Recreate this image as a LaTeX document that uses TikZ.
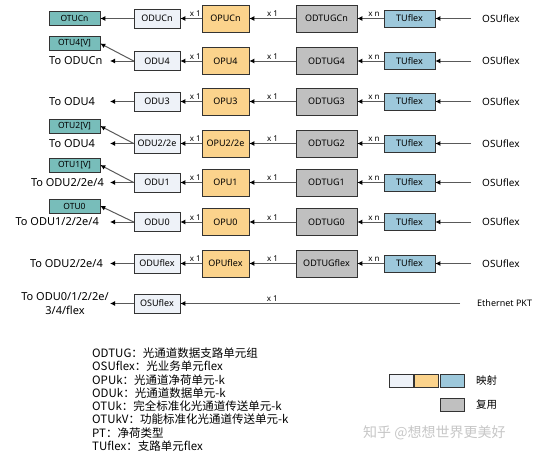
\documentclass[tikz,border=0pt]{standalone}
\usepackage{fontspec}
\setmainfont{Noto Sans}
\newfontfamily\cjk{Noto Sans CJK SC}
\usetikzlibrary{arrows.meta,positioning}

\definecolor{otufill}{HTML}{78BDBA}
\definecolor{odufill}{HTML}{EEF2F8}
\definecolor{opufill}{HTML}{FBD38C}
\definecolor{tuffill}{HTML}{9DC8DB}
\definecolor{tugfill}{HTML}{C0C0C0}

\begin{document}
\begin{tikzpicture}[x=1pt,y=-1pt,
    box/.style={draw=black!80, line width=0.6pt, inner sep=0pt, font=\fontsize{9}{10}\selectfont},
    otubox/.style={box, fill=otufill, minimum width=51pt, minimum height=14pt, font=\fontsize{8.5}{9}\selectfont},
    odubox/.style={box, fill=odufill, minimum width=46pt, minimum height=19pt},
    opubox/.style={box, fill=opufill, minimum width=47pt, minimum height=27pt},
    tugbox/.style={box, fill=tugfill, minimum width=61pt, minimum height=27pt},
    tufbox/.style={box, fill=tuffill, minimum width=51pt, minimum height=17pt},
    keybox/.style={draw=black!80, line width=0.6pt, minimum width=24pt, minimum height=13pt, inner sep=0pt},
    link/.style={draw=black!65, line width=1pt, -{Latex[length=5pt,width=5pt,color=black]}},
    mult/.style={font=\fontsize{8}{9}\selectfont, inner sep=1.5pt, above},
    totext/.style={font=\fontsize{11}{14}\selectfont, inner sep=0pt},
    srctext/.style={font=\fontsize{10}{12}\selectfont, inner sep=0pt, anchor=west}]
    \useasboundingbox (0,0) rectangle (536,456);

    % mapping chains, one per row
    \foreach \n/\y/\odu/\opu/\tug in {1/18.5/ODUCn/OPUCn/ODTUGCn, 2/61/ODU4/OPU4/ODTUG4,
        3/101.5/ODU3/OPU3/ODTUG3, 4/143.5/{ODU2/2e}/{OPU2/2e}/ODTUG2, 5/182.5/ODU1/OPU1/ODTUG1,
        6/222/ODU0/OPU0/ODTUG0, 7/263.5/ODUflex/OPUflex/ODTUGflex}{
        \node[odubox] (odu\n) at (157,\y) {\odu};
        \node[opubox] (opu\n) at (225.5,\y) {\opu};
        \node[tugbox] (tug\n) at (326.5,\y) {\tug};
        \node[tufbox] (tuf\n) at (409.5,\y) {TUflex};
        \node[srctext] (src\n) at (482,\y) {OSUflex};
        \draw[link, shorten <=11pt] (src\n) -- (tuf\n);
        \draw[link] (tuf\n) -- node[mult, pos=0.37] {x n} (tug\n);
        \draw[link] (tug\n) -- node[mult] {x 1} (opu\n);
        \draw[link] (opu\n) -- node[mult, pos=0.3] {x 1} (odu\n);
    }

    % OSUflex straight from packets
    \node[odubox] (odu8) at (157,303.5) {OSUflex};
    \node[srctext, font=\fontsize{9}{11}\selectfont] (eth) at (477,303.5) {Ethernet PKT};
    \draw[link, shorten <=17pt] (eth) -- node[mult, pos=0.69] {x 1} (odu8);

    % left side: OTU and higher order ODU
    \node[otubox] (otuCn) at (74.5,18.5) {OTUCn};
    \draw[link] (odu1) -- (otuCn);

    \node[otubox] (otu4) at (74.5,43.5) {OTU4[V]};
    \draw[link] (odu2.west) -- (otu4.east);
    \coordinate (to2) at (110,61);
    \draw[link] (odu2) -- (to2);
    \node[totext, anchor=west] at (49,61) {To ODUCn};

    \coordinate (to3) at (110,101.5);
    \draw[link] (odu3) -- (to3);
    \node[totext, anchor=west] at (49,101.5) {To ODU4};

    \node[otubox] (otu2) at (74.5,126) {OTU2[V]};
    \draw[link] (odu4.west) -- (otu2.east);
    \coordinate (to4) at (110,143.5);
    \draw[link] (odu4) -- (to4);
    \node[totext, anchor=west] at (49,143.5) {To ODU4};

    \node[otubox] (otu1) at (74.5,165) {OTU1[V]};
    \draw[link] (odu5.west) -- (otu1.east);
    \coordinate (to5) at (110,182.5);
    \draw[link] (odu5) -- (to5);
    \node[totext, anchor=east] at (104,182.5) {To ODU2/2e/4};

    \node[otubox] (otu0) at (74.5,206) {OTU0};
    \draw[link] (odu6.west) -- (otu0.east);
    \coordinate (to6) at (110,222);
    \draw[link] (odu6) -- (to6);
    \node[totext, anchor=east] at (99,222) {To ODU1/2/2e/4};

    \coordinate (to7) at (110,263.5);
    \draw[link] (odu7) -- (to7);
    \node[totext, anchor=east] at (103,263.5) {To ODU2/2e/4};

    \coordinate (to8) at (110,303.5);
    \draw[link] (odu8) -- (to8);
    \node[totext, align=center] at (65,304) {To ODU0/1/2/2e/\\3/4/flex};

    % abbreviations
    \node[font=\cjk\fontsize{11.5}{13.3}\selectfont, align=left, anchor=north west, inner sep=0pt] (abbr) at (92,347.5)
        {ODTUG：光通道数据支路单元组\\OSUflex：光业务单元flex\\OPUk：光通道净荷单元-k\\ODUk：光通道数据单元-k\\
         OTUk：完全标准化光通道传送单元-k\\OTUkV：功能标准化光通道传送单元-k\\PT：净荷类型\\TUflex：支路单元flex};

    % colour key
    \node[keybox, fill=odufill] (keyodu) at (401,380.5) {};
    \node[keybox, fill=opufill] (keyopu) at (426.5,380.5) {};
    \node[keybox, fill=tuffill] (keytuf) at (452.5,380.5) {};
    \node[font=\cjk\fontsize{10.5}{12}\selectfont, anchor=west, inner sep=0pt] (mapkey) at (476,380.5) {映射};
    \node[keybox, fill=tugfill] (keytug) at (452.5,404.5) {};
    \node[font=\cjk\fontsize{10.5}{12}\selectfont, anchor=west, inner sep=0pt] (muxkey) at (476,404.5) {复用};

    \node[font=\cjk\fontsize{14}{16}\selectfont, text=gray!45, anchor=west, inner sep=0pt] (mark) at (363,433) {知乎 @想想世界更美好};
\end{tikzpicture}
\end{document}
